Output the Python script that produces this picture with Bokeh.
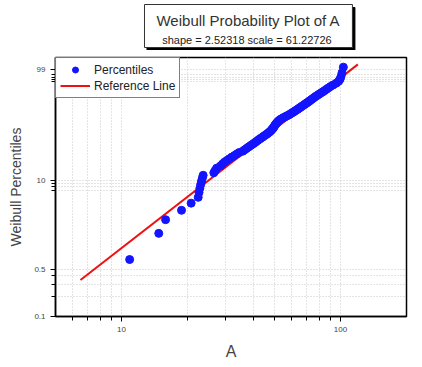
import numpy as np
from bokeh.plotting import figure
from bokeh.layouts import column
from bokeh.models import FixedTicker, Legend, LegendItem, ColumnDataSource
from bokeh.core.properties import value
from bokeh.embed import file_html
from bokeh.resources import INLINE

# ---- data ----
values_a = [10.9, 14.8, 15.9, 18.8, 20.8, 22.4, 22.6, 22.8, 23.0, 23.2,
            23.4, 23.6, 26.4, 26.8, 27.2, 28.3, 28.9, 29.5, 30.3, 31.1,
            31.9, 32.8, 33.6, 34.4, 35.8, 36.5, 37.2, 37.9, 38.6, 39.3,
            40.0, 40.7, 41.3, 42.0, 42.6, 43.3, 44.0, 44.6, 45.3, 46.0,
            46.6, 47.2, 47.7, 48.2, 48.6, 49.0, 49.3, 49.6, 49.9, 50.2,
            50.5, 50.8, 51.2, 51.6, 52.0, 52.5, 53.1, 53.8, 54.6, 55.5,
            56.4, 57.3, 58.2, 59.0, 59.8, 60.6, 61.4, 62.2, 63.0, 63.8,
            64.6, 65.4, 66.2, 67.0, 67.9, 68.8, 69.7, 70.6, 71.5, 72.4,
            73.3, 74.3, 75.3, 76.3, 77.5, 78.8, 80.1, 81.6, 83.1, 84.7,
            86.3, 88.0, 90.0, 92.5, 95.5, 98.0, 99.5, 100.5, 101.5, 103.0]
shape = 2.52318
scale = 61.22726
ref_x = [6.5, 120.0]

title_text = "Weibull Probability Plot of A"
subtitle_text = "shape = 2.52318  scale = 61.22726"

y_major_pct = [0.1, 0.5, 10, 99]
y_major_labels = ["0.1", "0.5", "10", "99"]
y_minor_pct = [0.2, 0.3, 0.4, 7, 8, 9, 95, 96, 97, 98]
x_major = [10, 100]
x_minor = [6, 7, 8, 9, 20, 30, 40, 50, 60, 70, 80, 90]


def wb(pct):
    return np.log(-np.log(1 - np.asarray(pct, dtype=float) / 100.0))


n = len(values_a)
ranks = np.arange(1, n + 1)
pct = (ranks - 0.3) / (n + 0.4) * 100.0
src = ColumnDataSource(dict(x=values_a, y=wb(pct)))
ref_src = ColumnDataSource(dict(x=ref_x, y=shape * (np.log(ref_x) - np.log(scale))))

FONT = "Liberation Sans"

# ---------------- title strip ----------------
t = figure(width=422, height=50, x_range=(0, 422), y_range=(0, 50),
           x_axis_type=None, y_axis_type=None, output_backend="svg",
           toolbar_location=None, min_border=0)
t.outline_line_color = None
t.grid.visible = False
t.quad(left=[110], right=[360], top=[43], bottom=[0], fill_color="black",
       line_color="black")
t.quad(left=[107], right=[357], top=[46], bottom=[3], fill_color="white",
       line_color="#333333", line_width=1)
t.text(x=[232], y=[30], text=[title_text], text_align="center",
       text_baseline="alphabetic", text_font=value(FONT),
       text_font_size="15px", text_color="#333333")
t.text(x=[232], y=[10.5], text=[subtitle_text], text_align="center",
       text_baseline="alphabetic", text_font=value(FONT),
       text_font_size="11px", text_color="#222222")

# ---------------- main plot ----------------
p = figure(width=422, height=314, x_axis_type="log", x_range=(5, 200),
           y_range=(float(wb(0.1)), float(wb(99.9))),
           output_backend="svg", toolbar_location=None,
           min_border_left=55, min_border_right=16, min_border_top=7,
           min_border_bottom=48)

p.outline_line_color = "black"
p.outline_line_width = 1.5

ymaj = [float(v) for v in wb(y_major_pct)]
ymin = [float(v) for v in wb(y_minor_pct)]
p.yaxis.ticker = FixedTicker(ticks=ymaj, minor_ticks=ymin)
p.yaxis.major_label_overrides = {v: l for v, l in zip(ymaj, y_major_labels)}
p.xaxis.ticker = FixedTicker(ticks=x_major, minor_ticks=x_minor)
p.xaxis.major_label_overrides = {10: "10", 100: "100"}

for ax in (p.xaxis[0], p.yaxis[0]):
    ax.axis_line_color = "black"
    ax.axis_line_width = 1.5
    ax.major_tick_line_color = "black"
    ax.minor_tick_line_color = "black"
    ax.major_tick_out = 5
    ax.major_tick_in = 0
    ax.minor_tick_out = 4
    ax.minor_tick_in = 0
    ax.major_label_text_font = FONT
    ax.major_label_text_font_size = "8px"
    ax.major_label_text_color = "#444444"
    ax.axis_label_text_font = FONT
    ax.axis_label_text_font_style = "normal"
    ax.axis_label_text_color = "#444444"

p.xaxis.axis_label = "A"
p.xaxis.axis_label_text_font_size = "16px"
p.xaxis.axis_label_standoff = 8
p.yaxis.axis_label = "Weibull Percentiles"
p.yaxis.axis_label_text_font_size = "14px"
p.yaxis.axis_label_standoff = 7

for g in (p.xgrid[0], p.ygrid[0]):
    g.grid_line_color = "#c8c8c8"
    g.grid_line_dash = "1 2"
    g.minor_grid_line_color = "#c8c8c8"
    g.minor_grid_line_dash = "1 2"

line_r = p.line("x", "y", source=ref_src, line_color="#ee1111", line_width=2)
circ_r = p.scatter("x", "y", source=src, size=8, fill_color="#1414ff",
                   line_color="#1414ff")

legend = Legend(items=[LegendItem(label="Percentiles", renderers=[circ_r]),
                       LegendItem(label="Reference Line", renderers=[line_r])],
                location="top_left")
legend.margin = 0
legend.padding = 4
legend.spacing = 1
legend.border_line_color = "black"
legend.border_line_width = 1.5
legend.label_text_font = FONT
legend.label_text_font_size = "12px"
legend.label_text_color = "#222222"
legend.glyph_width = 30
legend.glyph_height = 15
legend.label_standoff = 4
legend.label_height = 15
p.add_layout(legend)

layout = column(t, p, spacing=0)
open("out.html", "w").write(file_html(layout, INLINE))
